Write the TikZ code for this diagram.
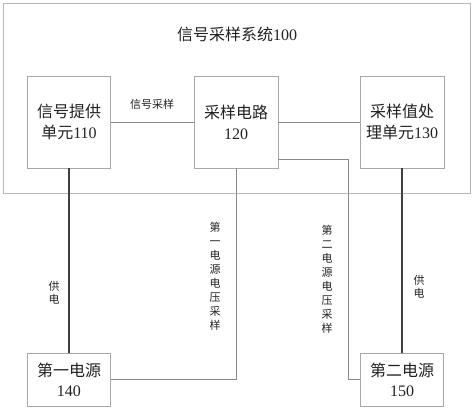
\documentclass[tikz,border=0pt]{standalone}
\usepackage{fontspec}
\setmainfont{Liberation Serif}
\newfontfamily\cjk{Noto Sans CJK SC}
\definecolor{boxgray}{HTML}{A8A8A8}
\definecolor{outergray}{HTML}{B8B8B8}
\definecolor{linegray}{HTML}{8A8A8A}
\definecolor{powergray}{HTML}{404040}
\definecolor{txt}{HTML}{222222}
\begin{document}
\begin{tikzpicture}[x=1pt,y=-1pt,
  box/.style={draw=boxgray, line width=0.9pt, fill=white, inner sep=0pt, align=center,
    text=txt, font=\fontsize{16}{21}\selectfont},
  bigbox/.style={box, minimum width=83pt, minimum height=92pt},
  psbox/.style={box, minimum width=83pt, minimum height=53pt, font=\fontsize{16}{20}\selectfont},
  sig/.style={draw=linegray, line width=0.8pt},
  power/.style={draw=powergray, line width=1.1pt},
  lbl/.style={inner sep=0pt, align=center, text=txt, font=\cjk\fontsize{11}{14}\selectfont},
  vlbl/.style={lbl, font=\cjk\fontsize{11}{14}\selectfont},
]
\useasboundingbox (0,0) rectangle (474,409);
\fill[white] (0,0) rectangle (474,409);
\node[draw=outergray, line width=0.9pt, minimum width=467pt, minimum height=190pt, inner sep=0pt] (sys) at (237,98) {};
\node[lbl, font=\fontsize{16}{20}\selectfont] (title) at (237,34) {{\cjk 信号采样系统}100};
\node[bigbox] (b110) at (69,122) {{\cjk 信号提供}\\{\cjk 单元}110};
\node[bigbox, minimum width=84pt] (b120) at (236,122) {{\cjk 采样电路}\\120};
\node[bigbox, minimum width=84pt] (b130) at (402,122) {{\cjk 采样值处}\\{\cjk 理单元}130};
\node[psbox] (b140) at (69,379.5) {{\cjk 第一电源}\\140};
\node[psbox] (b150) at (402,379.5) {{\cjk 第二电源}\\150};
\coordinate (p1) at (348,159);
% connectors
\draw[sig] (b110.east) -- (b120.west);
\draw[sig] (b120.east) -- (b130.west);
\draw[sig] (b120.east |- p1) -- (p1) |- (b150.west);
\draw[sig] (b120.south) |- (b140.east);
\draw[power] (b110.south) -- (b140.north);
\draw[power] (b130.south) -- (b150.north);
% labels
\node[lbl] (l1) at (152,104) {信号采样};
\node[vlbl, font=\cjk\fontsize{11}{13}\selectfont] (l2) at (54,292.5) {供\\电};
\node[vlbl, font=\cjk\fontsize{11}{13}\selectfont] (l3) at (419,287) {供\\电};
\node[vlbl] (l4) at (215,276) {第\\一\\电\\源\\电\\压\\采\\样};
\node[vlbl] (l5) at (327,279) {第\\二\\电\\源\\电\\压\\采\\样};
\end{tikzpicture}
\end{document}
